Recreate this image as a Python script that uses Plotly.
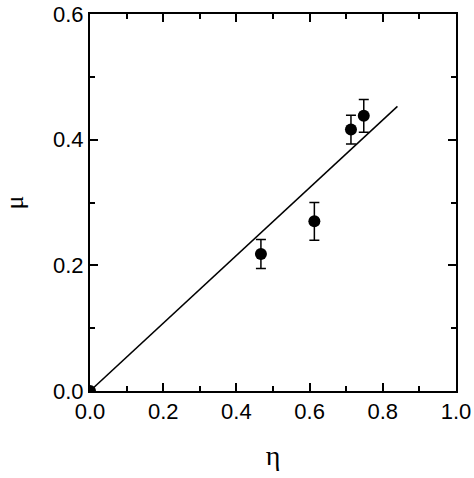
import plotly.graph_objects as go

eta = [0.0, 0.467, 0.613, 0.713, 0.748]
mu = [0.0, 0.218, 0.270, 0.416, 0.438]
mu_err = [0.0, 0.023, 0.030, 0.023, 0.026]

fit_x = [0.0, 0.84]
fit_y = [0.0, 0.453]

fig = go.Figure()
fig.add_trace(go.Scatter(x=fit_x, y=fit_y, mode='lines',
                         line=dict(color='black', width=1.5)))
fig.add_trace(go.Scatter(x=eta, y=mu, mode='markers',
                         marker=dict(color='black', size=12),
                         error_y=dict(type='data', array=mu_err, visible=True,
                                      color='black', thickness=1.5, width=5)))

axis = dict(showgrid=False, zeroline=False, showline=True, linecolor='black',
            linewidth=2, mirror='ticks', ticks='inside', ticklen=8, tickwidth=2,
            tickcolor='black', tickformat='.1f', automargin=False,
            ticklabeloverflow='allow',
            tickfont=dict(family='Liberation Sans, Arial', size=22, color='black'),
            minor=dict(ticks='inside', ticklen=5, tickwidth=1.5, tickcolor='black'))

fig.update_xaxes(axis, range=[0, 1.0], dtick=0.2, minor_dtick=0.1,
                 title=dict(text='η', font=dict(family='Liberation Serif, DejaVu Serif', size=28, color='black'),
                            standoff=22))
fig.update_yaxes(axis, range=[0, 0.6], dtick=0.2, minor_dtick=0.1,
                 title=dict(text='μ', font=dict(family='Liberation Serif, DejaVu Serif', size=26, color='black'),
                            standoff=30))

fig.update_layout(width=474, height=478, showlegend=False,
                  plot_bgcolor='white', paper_bgcolor='white',
                  margin=dict(l=90, r=18, t=14, b=87))

# drop the browser's default 8px body margin so the figure fills the window
fig.write_html("out.html", config={'displayModeBar': False},
               post_script="document.body.style.margin='0';")
